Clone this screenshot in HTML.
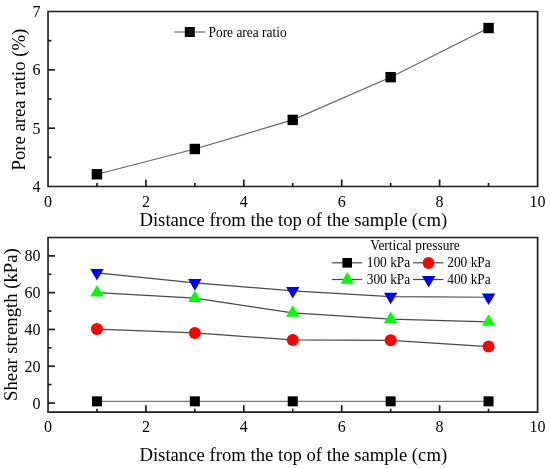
<!DOCTYPE html>
<html><head><meta charset="utf-8"><title>Plot</title>
<style>html,body{margin:0;padding:0;background:#fff;width:550px;height:468px;overflow:hidden}svg{display:block}</style>
</head><body>
<svg width="550" height="468" viewBox="0 0 550 468">
<rect width="550" height="468" fill="#fff"/>
<path d="M48.7 11.5H537.6V186.5H48.7" fill="none" stroke-linejoin="miter" stroke="#1e1e1e" stroke-width="1.7"/>
<line x1="48.03" y1="10.65" x2="48.03" y2="187.35" stroke="#000" stroke-width="1.45"/>
<text x="48.00" y="206.6" text-anchor="middle" font-size="16" font-family="'Liberation Serif', 'Times New Roman', serif">0</text>
<line x1="96.95" y1="186.5" x2="96.95" y2="183.0" stroke="#1e1e1e" stroke-width="1.7"/>
<line x1="145.90" y1="186.5" x2="145.90" y2="179.5" stroke="#1e1e1e" stroke-width="1.7"/>
<text x="145.90" y="206.6" text-anchor="middle" font-size="16" font-family="'Liberation Serif', 'Times New Roman', serif">2</text>
<line x1="194.85" y1="186.5" x2="194.85" y2="183.0" stroke="#1e1e1e" stroke-width="1.7"/>
<line x1="243.80" y1="186.5" x2="243.80" y2="179.5" stroke="#1e1e1e" stroke-width="1.7"/>
<text x="243.80" y="206.6" text-anchor="middle" font-size="16" font-family="'Liberation Serif', 'Times New Roman', serif">4</text>
<line x1="292.75" y1="186.5" x2="292.75" y2="183.0" stroke="#1e1e1e" stroke-width="1.7"/>
<line x1="341.70" y1="186.5" x2="341.70" y2="179.5" stroke="#1e1e1e" stroke-width="1.7"/>
<text x="341.70" y="206.6" text-anchor="middle" font-size="16" font-family="'Liberation Serif', 'Times New Roman', serif">6</text>
<line x1="390.65" y1="186.5" x2="390.65" y2="183.0" stroke="#1e1e1e" stroke-width="1.7"/>
<line x1="439.60" y1="186.5" x2="439.60" y2="179.5" stroke="#1e1e1e" stroke-width="1.7"/>
<text x="439.60" y="206.6" text-anchor="middle" font-size="16" font-family="'Liberation Serif', 'Times New Roman', serif">8</text>
<line x1="488.55" y1="186.5" x2="488.55" y2="183.0" stroke="#1e1e1e" stroke-width="1.7"/>
<text x="537.50" y="206.6" text-anchor="middle" font-size="16" font-family="'Liberation Serif', 'Times New Roman', serif">10</text>
<text x="40.5" y="192.00" text-anchor="end" font-size="16" font-family="'Liberation Serif', 'Times New Roman', serif">4</text>
<line x1="48.0" y1="157.33" x2="51.5" y2="157.33" stroke="#1e1e1e" stroke-width="1.7"/>
<line x1="48.0" y1="128.17" x2="55.0" y2="128.17" stroke="#1e1e1e" stroke-width="1.7"/>
<text x="40.5" y="133.67" text-anchor="end" font-size="16" font-family="'Liberation Serif', 'Times New Roman', serif">5</text>
<line x1="48.0" y1="99.00" x2="51.5" y2="99.00" stroke="#1e1e1e" stroke-width="1.7"/>
<line x1="48.0" y1="69.83" x2="55.0" y2="69.83" stroke="#1e1e1e" stroke-width="1.7"/>
<text x="40.5" y="75.33" text-anchor="end" font-size="16" font-family="'Liberation Serif', 'Times New Roman', serif">6</text>
<line x1="48.0" y1="40.67" x2="51.5" y2="40.67" stroke="#1e1e1e" stroke-width="1.7"/>
<text x="40.5" y="17.00" text-anchor="end" font-size="16" font-family="'Liberation Serif', 'Times New Roman', serif">7</text>
<polyline fill="none" stroke="#666" stroke-width="1.2" points="96.95,174.25 194.85,148.99 292.75,119.88 390.65,77.18 488.55,28.01"/>
<rect x="91.75" y="169.05" width="10.4" height="10.4" fill="#000"/>
<rect x="189.65" y="143.79" width="10.4" height="10.4" fill="#000"/>
<rect x="287.55" y="114.68" width="10.4" height="10.4" fill="#000"/>
<rect x="385.45" y="71.98" width="10.4" height="10.4" fill="#000"/>
<rect x="483.35" y="22.81" width="10.4" height="10.4" fill="#000"/>
<line x1="174.4" y1="32" x2="205.1" y2="32" stroke="#777" stroke-width="1.3"/>
<rect x="184.8" y="27" width="10" height="10" fill="#000"/>
<text transform="translate(208.5,36.8) scale(1,1.1)" font-size="13.4" font-family="'Liberation Serif', 'Times New Roman', serif">Pore area ratio</text>
<text x="293.3" y="226" text-anchor="middle" font-size="18.7" font-family="'Liberation Serif', 'Times New Roman', serif">Distance from the top of the sample (cm)</text>
<text transform="translate(25.3,99.6) rotate(-90)" text-anchor="middle" font-size="18.7" font-family="'Liberation Serif', 'Times New Roman', serif">Pore area ratio (%)</text>
<path d="M48.7 237.5H537.6V412.2H48.7" fill="none" stroke-linejoin="miter" stroke="#1e1e1e" stroke-width="1.7"/>
<line x1="48.03" y1="236.65" x2="48.03" y2="413.05" stroke="#000" stroke-width="1.45"/>
<text x="48.00" y="431.8" text-anchor="middle" font-size="16" font-family="'Liberation Serif', 'Times New Roman', serif">0</text>
<line x1="96.95" y1="412.2" x2="96.95" y2="408.7" stroke="#1e1e1e" stroke-width="1.7"/>
<line x1="145.90" y1="412.2" x2="145.90" y2="405.2" stroke="#1e1e1e" stroke-width="1.7"/>
<text x="145.90" y="431.8" text-anchor="middle" font-size="16" font-family="'Liberation Serif', 'Times New Roman', serif">2</text>
<line x1="194.85" y1="412.2" x2="194.85" y2="408.7" stroke="#1e1e1e" stroke-width="1.7"/>
<line x1="243.80" y1="412.2" x2="243.80" y2="405.2" stroke="#1e1e1e" stroke-width="1.7"/>
<text x="243.80" y="431.8" text-anchor="middle" font-size="16" font-family="'Liberation Serif', 'Times New Roman', serif">4</text>
<line x1="292.75" y1="412.2" x2="292.75" y2="408.7" stroke="#1e1e1e" stroke-width="1.7"/>
<line x1="341.70" y1="412.2" x2="341.70" y2="405.2" stroke="#1e1e1e" stroke-width="1.7"/>
<text x="341.70" y="431.8" text-anchor="middle" font-size="16" font-family="'Liberation Serif', 'Times New Roman', serif">6</text>
<line x1="390.65" y1="412.2" x2="390.65" y2="408.7" stroke="#1e1e1e" stroke-width="1.7"/>
<line x1="439.60" y1="412.2" x2="439.60" y2="405.2" stroke="#1e1e1e" stroke-width="1.7"/>
<text x="439.60" y="431.8" text-anchor="middle" font-size="16" font-family="'Liberation Serif', 'Times New Roman', serif">8</text>
<line x1="488.55" y1="412.2" x2="488.55" y2="408.7" stroke="#1e1e1e" stroke-width="1.7"/>
<text x="537.50" y="431.8" text-anchor="middle" font-size="16" font-family="'Liberation Serif', 'Times New Roman', serif">10</text>
<line x1="48.0" y1="403.01" x2="55.0" y2="403.01" stroke="#1e1e1e" stroke-width="1.7"/>
<text x="40.5" y="408.51" text-anchor="end" font-size="16" font-family="'Liberation Serif', 'Times New Roman', serif">0</text>
<line x1="48.0" y1="384.62" x2="51.5" y2="384.62" stroke="#1e1e1e" stroke-width="1.7"/>
<line x1="48.0" y1="366.23" x2="55.0" y2="366.23" stroke="#1e1e1e" stroke-width="1.7"/>
<text x="40.5" y="371.73" text-anchor="end" font-size="16" font-family="'Liberation Serif', 'Times New Roman', serif">20</text>
<line x1="48.0" y1="347.84" x2="51.5" y2="347.84" stroke="#1e1e1e" stroke-width="1.7"/>
<line x1="48.0" y1="329.45" x2="55.0" y2="329.45" stroke="#1e1e1e" stroke-width="1.7"/>
<text x="40.5" y="334.95" text-anchor="end" font-size="16" font-family="'Liberation Serif', 'Times New Roman', serif">40</text>
<line x1="48.0" y1="311.06" x2="51.5" y2="311.06" stroke="#1e1e1e" stroke-width="1.7"/>
<line x1="48.0" y1="292.67" x2="55.0" y2="292.67" stroke="#1e1e1e" stroke-width="1.7"/>
<text x="40.5" y="298.17" text-anchor="end" font-size="16" font-family="'Liberation Serif', 'Times New Roman', serif">60</text>
<line x1="48.0" y1="274.28" x2="51.5" y2="274.28" stroke="#1e1e1e" stroke-width="1.7"/>
<line x1="48.0" y1="255.89" x2="55.0" y2="255.89" stroke="#1e1e1e" stroke-width="1.7"/>
<text x="40.5" y="261.39" text-anchor="end" font-size="16" font-family="'Liberation Serif', 'Times New Roman', serif">80</text>
<polyline fill="none" stroke="#777" stroke-width="1.2" points="96.95,401.35 194.85,401.35 292.75,401.35 390.65,401.35 488.55,401.35"/>
<polyline fill="none" stroke="#4a4a4a" stroke-width="1.2" points="96.95,329.08 194.85,332.94 292.75,339.93 390.65,340.30 488.55,346.55"/>
<polyline fill="none" stroke="#4a4a4a" stroke-width="1.2" points="96.95,292.67 194.85,298.19 292.75,312.90 390.65,319.15 488.55,321.91"/>
<polyline fill="none" stroke="#4a4a4a" stroke-width="1.2" points="96.95,272.81 194.85,282.92 292.75,290.83 390.65,296.53 488.55,297.27"/>
<rect x="91.95" y="396.35" width="10" height="10" fill="#000"/>
<rect x="189.85" y="396.35" width="10" height="10" fill="#000"/>
<rect x="287.75" y="396.35" width="10" height="10" fill="#000"/>
<rect x="385.65" y="396.35" width="10" height="10" fill="#000"/>
<rect x="483.55" y="396.35" width="10" height="10" fill="#000"/>
<circle cx="96.95" cy="329.08" r="6" fill="#ff0000"/>
<circle cx="194.85" cy="332.94" r="6" fill="#ff0000"/>
<circle cx="292.75" cy="339.93" r="6" fill="#ff0000"/>
<circle cx="390.65" cy="340.30" r="6" fill="#ff0000"/>
<circle cx="488.55" cy="346.55" r="6" fill="#ff0000"/>
<polygon fill="#00ff00" points="96.95,284.93 90.25,296.54 103.65,296.54"/>
<polygon fill="#00ff00" points="194.85,290.45 188.15,302.05 201.55,302.05"/>
<polygon fill="#00ff00" points="292.75,305.16 286.05,316.76 299.45,316.76"/>
<polygon fill="#00ff00" points="390.65,311.41 383.95,323.02 397.35,323.02"/>
<polygon fill="#00ff00" points="488.55,314.17 481.85,325.78 495.25,325.78"/>
<polygon fill="#0000ff" points="96.95,280.54 90.25,268.94 103.65,268.94"/>
<polygon fill="#0000ff" points="194.85,290.66 188.15,279.05 201.55,279.05"/>
<polygon fill="#0000ff" points="292.75,298.57 286.05,286.96 299.45,286.96"/>
<polygon fill="#0000ff" points="390.65,304.27 383.95,292.66 397.35,292.66"/>
<polygon fill="#0000ff" points="488.55,305.00 481.85,293.40 495.25,293.40"/>
<text transform="translate(370.2,250.2) scale(1,1.1)" font-size="13.4" font-family="'Liberation Serif', 'Times New Roman', serif">Vertical pressure</text>
<line x1="332" y1="262.8" x2="362" y2="262.8" stroke="#4a4a4a" stroke-width="1.2"/>
<rect x="342.40" y="258.00" width="9.6" height="9.6" fill="#000"/>
<text transform="translate(366.7,267.4) scale(1,1.1)" font-size="13.4" font-family="'Liberation Serif', 'Times New Roman', serif">100 kPa</text>
<line x1="413" y1="262.8" x2="443.5" y2="262.8" stroke="#4a4a4a" stroke-width="1.2"/>
<circle cx="428.50" cy="263.00" r="5.9" fill="#ff0000"/>
<text transform="translate(447.2,267.4) scale(1,1.1)" font-size="13.4" font-family="'Liberation Serif', 'Times New Roman', serif">200 kPa</text>
<line x1="332" y1="279.5" x2="362" y2="279.5" stroke="#4a4a4a" stroke-width="1.2"/>
<polygon fill="#00ff00" points="347.30,272.06 340.60,283.67 354.00,283.67"/>
<text transform="translate(366.7,283.8) scale(1,1.1)" font-size="13.4" font-family="'Liberation Serif', 'Times New Roman', serif">300 kPa</text>
<line x1="413" y1="279.5" x2="443.5" y2="279.5" stroke="#4a4a4a" stroke-width="1.2"/>
<polygon fill="#0000ff" points="428.70,287.54 422.00,275.93 435.40,275.93"/>
<text transform="translate(447.2,283.8) scale(1,1.1)" font-size="13.4" font-family="'Liberation Serif', 'Times New Roman', serif">400 kPa</text>
<text x="293.3" y="460.8" text-anchor="middle" font-size="18.7" font-family="'Liberation Serif', 'Times New Roman', serif">Distance from the top of the sample (cm)</text>
<text transform="translate(17.0,324.6) rotate(-90)" text-anchor="middle" font-size="18.7" font-family="'Liberation Serif', 'Times New Roman', serif">Shear strength (kPa)</text>
</svg>
</body></html>
